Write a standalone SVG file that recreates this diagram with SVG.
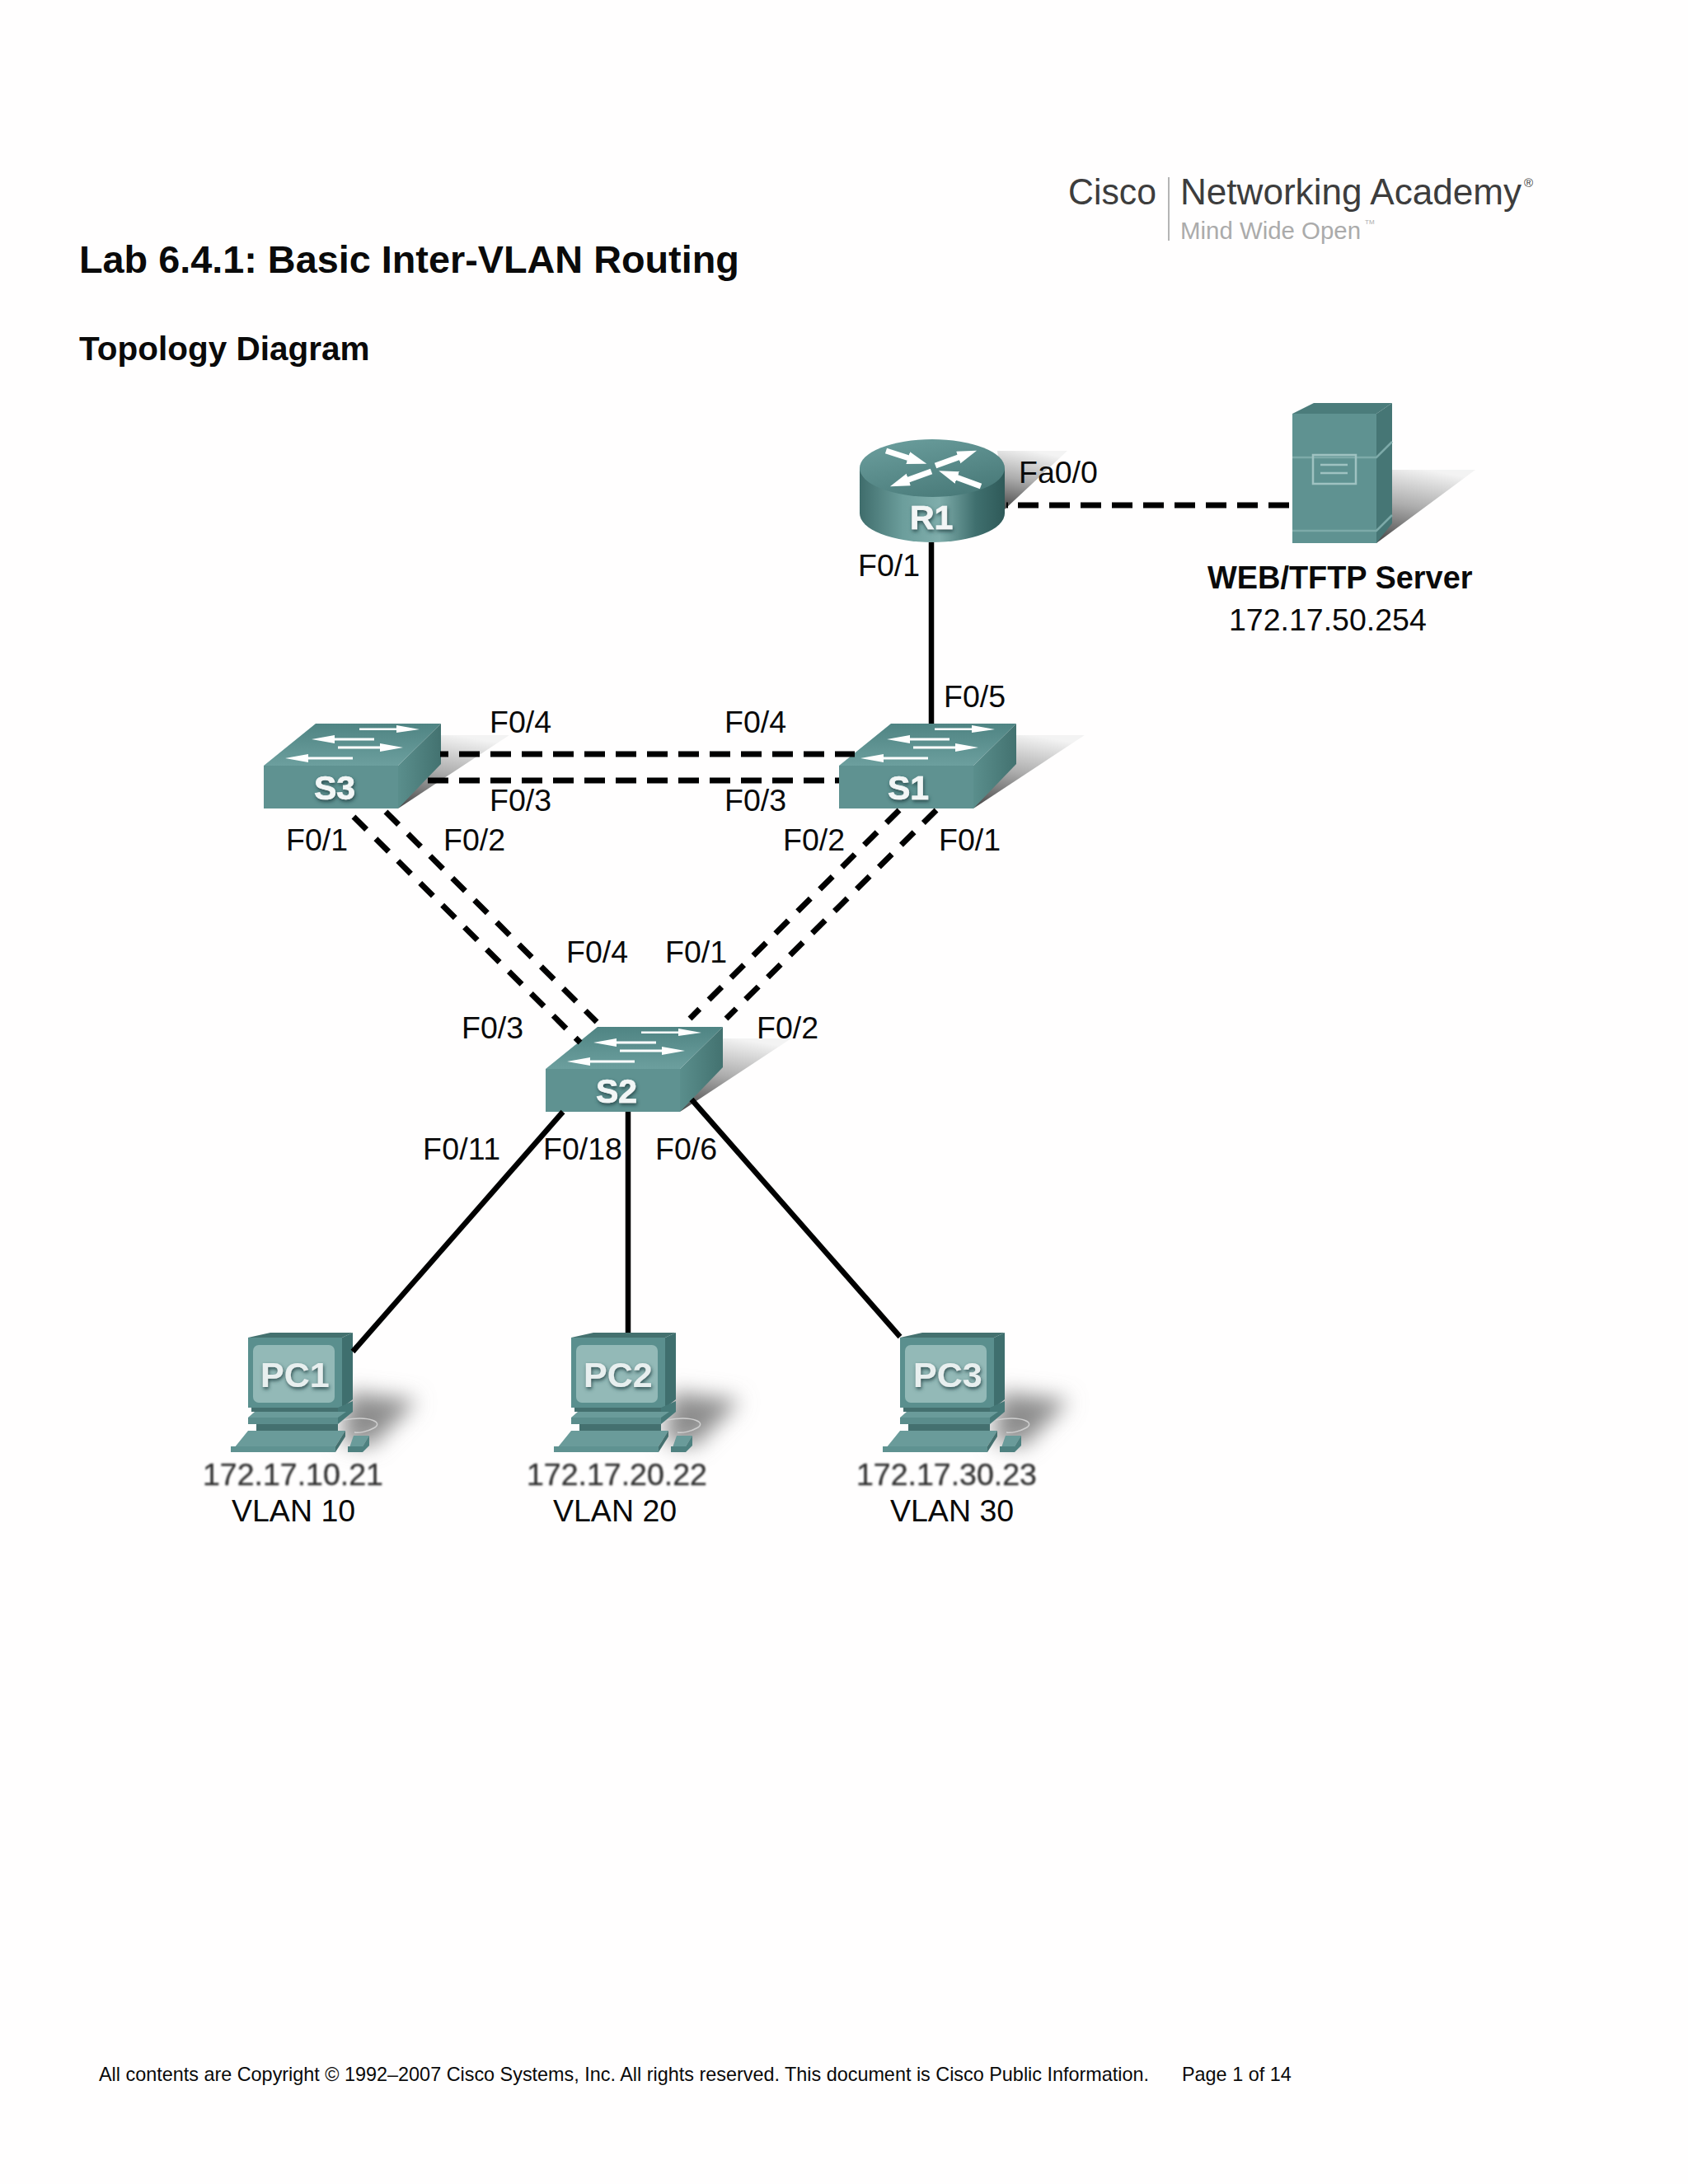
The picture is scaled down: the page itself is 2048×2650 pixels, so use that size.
<svg xmlns="http://www.w3.org/2000/svg" xmlns:xlink="http://www.w3.org/1999/xlink" width="2048" height="2650" viewBox="0 0 2048 2650">
<style>
text{font-family:"Liberation Sans",Arial,sans-serif;fill:#0a0a0a}
.l{font-size:37.5px}
.b{font-weight:bold}
.dev{font-weight:bold;font-size:41px;fill:#f2f6f6;stroke:#f2f6f6;stroke-width:.7;filter:url(#ds)}
.pcl{font-weight:bold;font-size:43px;fill:#e8efef;filter:url(#ds)}
.ip{font-size:37.5px;fill:#2e2e2e;stroke:#555;stroke-width:.5;filter:url(#fz)}
.logo{fill:#3d3d3d;font-size:43.5px}
.logo2{fill:#ababab;font-size:30px}
.dh{fill:none;stroke:#000;stroke-width:7;stroke-dasharray:25 13}
.dd{fill:none;stroke:#000;stroke-width:7;stroke-dasharray:22 16}
.s{fill:none;stroke:#000;stroke-width:6.5}
.ra{stroke:#fff;stroke-width:7;fill:none;marker-end:url(#wh)}
</style>
<defs>
<filter id="ds" x="-30%" y="-30%" width="160%" height="160%"><feDropShadow dx="1" dy="2.500" stdDeviation="2" flood-color="#24474a" flood-opacity=".9"/></filter>
<filter id="fz" x="-5%" y="-20%" width="110%" height="140%"><feGaussianBlur stdDeviation=".8"/></filter>
<filter id="bl" x="-60%" y="-60%" width="220%" height="220%"><feGaussianBlur stdDeviation="13"/></filter>
<marker id="wh" markerWidth="5" markerHeight="4" refX="0.2" refY="1.100" orient="auto"><path d="M0 0L3.400 1.100L0 2.200z" fill="#fff"/></marker>
<linearGradient id="shg" x1="0.25" y1="1" x2="0.5" y2="0"><stop offset="0" stop-color="#4f4f4f"/><stop offset=".5" stop-color="#adadad"/><stop offset="1" stop-color="#f3f3f3"/></linearGradient>
<linearGradient id="top" x1="0" y1="0" x2="0" y2="1"><stop offset="0" stop-color="#4f8483"/><stop offset="1" stop-color="#6c9f9e"/></linearGradient>
<linearGradient id="side" x1="0" y1="0" x2="1" y2="0"><stop offset="0" stop-color="#5a8e8c"/><stop offset="1" stop-color="#437270"/></linearGradient>
<linearGradient id="cyl" x1="0" y1="0" x2="1" y2="0"><stop offset="0" stop-color="#3f6d6c"/><stop offset=".3" stop-color="#6c9e9c"/><stop offset=".55" stop-color="#7fadab"/><stop offset=".8" stop-color="#3f6f6e"/><stop offset="1" stop-color="#2f5a59"/></linearGradient>
<linearGradient id="cyt" x1="0.2" y1="0" x2="0.8" y2="1"><stop offset="0" stop-color="#6a9d9c"/><stop offset="1" stop-color="#477877"/></linearGradient>
<g id="sw">
<path d="M215 -37H298L163 52z" fill="url(#shg)"/>
<path d="M0 0L63 -51H215L163 0z" fill="url(#top)"/>
<rect x="0" y="0" width="163" height="52" fill="#5f9291"/>
<path d="M163 0L215 -51V-2L163 52z" fill="url(#side)"/>
<g fill="#fff">
<path d="M116 -45.500H161V-49L189 -44L161 -40V-43H116z"/>
<path d="M134 -33.500H86V-37L58 -32L86 -27V-30.500H134z"/>
<path d="M90 -23.500H141V-27L169 -22L141 -17V-20.500H90z"/>
<path d="M108 -10.500H54V-14L26 -9L54 -4V-7.500H108z"/>
</g>
</g>
<g id="pc">
<path d="M122 72L205 82L150 138L112 132z" fill="#8c8c8c" filter="url(#bl)"/>
<path d="M116 106C150 100 165 110 152 116C145 120 135 122 129 121" fill="none" stroke="#cfcfcf" stroke-width="1.500"/>
<path d="M0 6L27 0H127L114 6z" fill="#44716f"/>
<path d="M114 6L127 0V81L114 91z" fill="#3f6f6e"/>
<rect x="0" y="6" width="114" height="85" fill="#5a8f8e"/>
<rect x="6" y="15" width="99" height="70" rx="7" fill="#93b9b7"/>
<rect x="4" y="91" width="105" height="5" fill="#44706f"/>
<path d="M109 91L127 83V96L109 111z" fill="#467978"/>
<path d="M0 103L8 96H119L109 103z" fill="#6a9b9a"/>
<rect x="0" y="103" width="109" height="8" fill="#5b8d8c"/>
<rect x="10" y="111" width="99" height="8" fill="#44706f"/>
<path d="M-21 145L0 119H118L106 138V145z" fill="#6a9b9a"/>
<path d="M-21 138H106V145H-21z" fill="#5f9291"/>
<path d="M106 138L118 119V126L106 145z" fill="#44706f"/>
<path d="M121 145L128 125H147L139 138H121z" fill="#6a9b9a"/>
<path d="M121 145V138H139V145zM139 138L147 125V137L139 145z" fill="#4e8180"/>
</g>
</defs>
<rect id="page" width="2048" height="2650" fill="#fffefe"/>
<g id="logo">
<text class="logo" x="1296" y="248" textLength="107" lengthAdjust="spacingAndGlyphs">Cisco</text>
<rect x="1417" y="215" width="2" height="77" fill="#b5b5b5"/>
<text class="logo" x="1432" y="248" textLength="414" lengthAdjust="spacingAndGlyphs">Networking Academy</text>
<text class="logo" x="1849" y="227" style="font-size:15px">®</text>
<text class="logo2" x="1432" y="290" textLength="219" lengthAdjust="spacingAndGlyphs">Mind Wide Open</text>
<text class="logo2" x="1656" y="272" style="font-size:8px">TM</text>
</g>
<g id="headings">
<text class="b" x="96" y="331" font-size="46.800">Lab 6.4.1: Basic Inter-VLAN Routing</text>
<text class="b" x="96" y="437" font-size="40.500">Topology Diagram</text>
</g>
<g id="R1">
<path d="M1210 547H1295L1219 618z" fill="url(#shg)"/>
<path d="M1043 568V623A88 35 0 0 0 1219 623V568z" fill="url(#cyl)"/>
<ellipse cx="1131" cy="568" rx="88" ry="35" fill="url(#cyt)"/>
<path class="ra" d="M1075 547L1103 556"/>
<path class="ra" d="M1135 565L1164 554.500"/>
<path class="ra" d="M1130 572L1101 582.500"/>
<path class="ra" d="M1190 590L1160 579"/>
<text class="dev" x="1104" y="642">R1</text>
</g>
<text class="l" x="1236" y="586">Fa0/0</text>
<text class="l" x="1041" y="699">F0/1</text>
<text class="l" x="1145" y="858">F0/5</text>
<g id="Server">
<path d="M1689 570H1790L1670 659z" fill="url(#shg)"/>
<path d="M1568 502L1594 489H1689L1670 502z" fill="#4b7c7b"/>
<rect x="1568" y="502" width="102" height="157" fill="#5f9291"/>
<path d="M1670 502L1689 489V635L1670 659z" fill="#467675"/>
<path d="M1568 555H1670L1689 536M1568 644H1670L1689 625" fill="none" stroke="#7daaa9" stroke-width="2.500"/>
<rect x="1593" y="552" width="52" height="35" fill="none" stroke="#9fc2c1" stroke-width="2.500"/>
<path d="M1602 564H1635M1602 574H1635" stroke="#9fc2c1" stroke-width="2.500"/>
<text class="b" x="1465" y="714" font-size="37.900">WEB/TFTP Server</text>
<text class="l" x="1491" y="765">172.17.50.254</text>
</g>
<g id="S1"><use href="#sw" xlink:href="#sw" x="1018" y="929"/><text class="dev" x="1077" y="970">S1</text></g>
<g id="S3"><use href="#sw" xlink:href="#sw" x="320" y="929"/><text class="dev" x="381" y="970">S3</text></g>
<g id="S2"><use href="#sw" xlink:href="#sw" x="662" y="1297"/><text class="dev" x="723" y="1338">S2</text></g>
<g id="PC1"><use href="#pc" xlink:href="#pc" x="301" y="1617"/><text class="pcl" x="316" y="1683">PC1</text><text class="ip" x="246" y="1802">172.17.10.21</text><text class="l" x="281" y="1846">VLAN 10</text></g>
<g id="PC2"><use href="#pc" xlink:href="#pc" x="693" y="1617"/><text class="pcl" x="708" y="1683">PC2</text><text class="ip" x="639" y="1802">172.17.20.22</text><text class="l" x="671" y="1846">VLAN 20</text></g>
<g id="PC3"><use href="#pc" xlink:href="#pc" x="1092" y="1617"/><text class="pcl" x="1108" y="1683">PC3</text><text class="ip" x="1039" y="1802">172.17.30.23</text><text class="l" x="1080" y="1846">VLAN 30</text></g>
<g id="connectors">
<path class="dh" d="M1221 613H1223M1235 613H1568"/>
<path class="s" d="M1130 658V878"/>
<path class="dh" d="M534 915H1037" stroke-dashoffset="15"/>
<path class="dh" d="M519 947H1018"/>
<path class="dd" d="M429 991L704 1265"/>
<path class="dd" d="M468 985L724 1240"/>
<path class="dd" d="M1091 983L837 1236"/>
<path class="dd" d="M1136 983L881 1236"/>
<path class="s" d="M683 1349L428 1640"/>
<path class="s" d="M762 1349V1617"/>
<path class="s" d="M839 1334L1092 1622"/>
</g>
<g id="port-labels">
<text class="l" x="594" y="889">F0/4</text>
<text class="l" x="879" y="889">F0/4</text>
<text class="l" x="594" y="984">F0/3</text>
<text class="l" x="879" y="984">F0/3</text>
<text class="l" x="347" y="1032">F0/1</text>
<text class="l" x="538" y="1032">F0/2</text>
<text class="l" x="950" y="1032">F0/2</text>
<text class="l" x="1139" y="1032">F0/1</text>
<text class="l" x="687" y="1168">F0/4</text>
<text class="l" x="807" y="1168">F0/1</text>
<text class="l" x="560" y="1260">F0/3</text>
<text class="l" x="918" y="1260">F0/2</text>
<text class="l" x="513" y="1407" textLength="94">F0/11</text>
<text class="l" x="659" y="1407">F0/18</text>
<text class="l" x="795" y="1407">F0/6</text>
</g>
<g id="footer" font-size="23.400">
<text x="120" y="2525">All contents are Copyright © 1992–2007 Cisco Systems, Inc. All rights reserved. This document is Cisco Public Information.</text>
<text x="1434" y="2525">Page 1 of 14</text>
</g>
</svg>
